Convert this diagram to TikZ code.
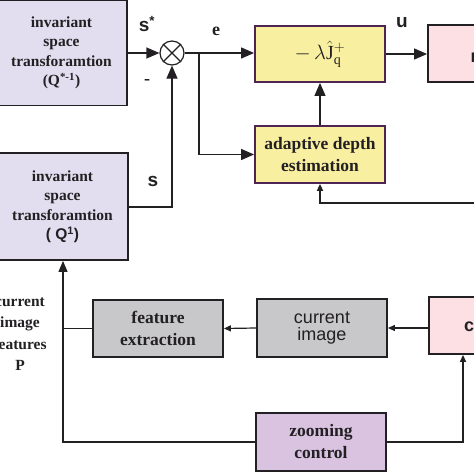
\documentclass[tikz,border=0pt]{standalone}
\usepackage{fontspec}
\setmainfont{Liberation Serif}
\setsansfont{Liberation Sans}
\usetikzlibrary{arrows.meta}
\definecolor{lav}{RGB}{226,222,240}
\definecolor{yel}{RGB}{248,240,160}
\definecolor{yelb}{RGB}{80,35,85}
\definecolor{pnk}{RGB}{252,224,228}
\definecolor{gry}{RGB}{200,200,202}
\definecolor{zpur}{RGB}{217,195,225}
\definecolor{ink}{RGB}{35,32,35}
\begin{document}
\begin{tikzpicture}[x=1pt,y=-1pt,
  boxs/.style={draw=ink,line width=1.8pt,minimum width=130pt,minimum height=57pt,inner sep=0pt,align=center,text=ink},
  sertxt/.style={font=\fontsize{15.5}{19.5}\selectfont\bfseries},
  bigtxt/.style={font=\fontsize{17.5}{22}\selectfont\bfseries},
  conn/.style={draw=ink,line width=1.2pt},
  bigarr/.style={conn,-{Triangle[length=13pt,width=11pt]}},
  midarr/.style={conn,-{Triangle[length=11pt,width=9pt]}},
  smallarr/.style={conn,-{Triangle[length=7pt,width=6pt]}},
  lbl/.style={text=ink,inner sep=0pt}
]
\useasboundingbox (0,0) rectangle (474,474);
% boxes
\node[boxs,sertxt,fill=lav,minimum width=131pt,minimum height=105pt] (qs) at (61.5,53) {invariant\\space\\transforamtion\\(Q\textsuperscript{*-1})};
\node[draw=ink,line width=1.2pt,circle,minimum size=24pt,inner sep=0pt] (sum) at (172,53) {};
\draw[conn] (sum.north west) -- (sum.south east) (sum.north east) -- (sum.south west);
\node[boxs,fill=yel,draw=yelb,minimum height=56pt,font=\fontsize{20}{22}\selectfont] (J) at (320,54) {$-\,\lambda\hat{\mathrm{J}}^{+}_{\mathrm{q}}$};
\node[boxs,fill=pnk,minimum width=110pt,minimum height=57pt] (rob) at (483,53.5) {};
\node[lbl,anchor=west,font=\fontsize{18}{20}\selectfont\sffamily\bfseries] (robt) at (470.5,56) {robot};
\node[boxs,bigtxt,fill=yel,draw=yelb] (ade) at (320,154.5) {adaptive depth\\estimation};
\node[boxs,sertxt,fill=lav,minimum width=131pt,minimum height=107pt] (q1) at (62.5,206.5) {invariant\\space\\transforamtion\\{\sffamily( Q\textsuperscript{1})}};
\node[boxs,bigtxt,fill=gry] (fe) at (158,328.5) {feature\\extraction};
\node[boxs,fill=gry,minimum height=58pt,font=\fontsize{18}{17}\selectfont\sffamily] (ci) at (322,328) {current\\image};
\node[boxs,fill=pnk,minimum width=110pt,minimum height=57pt] (cam) at (484,325.5) {};
\node[lbl,anchor=west,font=\fontsize{18}{20}\selectfont\sffamily\bfseries] (camt) at (464,327) {camera};
\node[boxs,bigtxt,fill=zpur,minimum height=58pt] (zc) at (321,442) {zooming\\control};
\node[lbl,align=center,font=\fontsize{15.5}{21.5}\selectfont\bfseries] (cif) at (20,334) {current\\image\\features\\P};
% labels
\node[lbl,font=\fontsize{19}{20}\selectfont\sffamily\bfseries] (ls) at (147,24) {s\textsuperscript{*}};
\node[lbl,font=\fontsize{18}{20}\selectfont\bfseries] (lm) at (147,82) {-};
\node[lbl,font=\fontsize{18}{20}\selectfont\bfseries] (le) at (216,31) {e};
\node[lbl,font=\fontsize{19}{20}\selectfont\sffamily\bfseries] (lu) at (402,23) {u};
\node[lbl,font=\fontsize{19}{20}\selectfont\sffamily\bfseries] (ls2) at (153,181) {s};
% connectors
\coordinate (br) at (199,53);
\coordinate (fbr) at (480,203);
\coordinate (bl) at (63,442);
\coordinate (brr) at (463,442);
\draw[bigarr] (qs.east |- sum) -- (sum.west);
\draw[bigarr] (sum.east) -- (sum.east -| J.west);
\draw[bigarr] (br) |- (ade.west);
\draw[bigarr] (J.east) -- (J.east -| rob.west);
\draw[bigarr] (ade.north) -- (J.south);
\draw[conn,line width=2pt,-{Triangle[length=7pt,width=6pt]}] (fbr) -| (ade.south);
\draw[bigarr] (q1.east |- 0,207) -| (sum.south);
\draw[midarr] (zc.west) -- (bl) -- (bl |- q1.south);
\draw[conn] (fe.west) -- (fe.west -| bl);
\draw[smallarr] (ci.west) -- (fe.east);
\draw[smallarr] (cam.west |- ci) -- (ci.east);
\draw[smallarr] (zc.east) -- (brr) -- (brr |- cam.south);
\end{tikzpicture}
\end{document}
